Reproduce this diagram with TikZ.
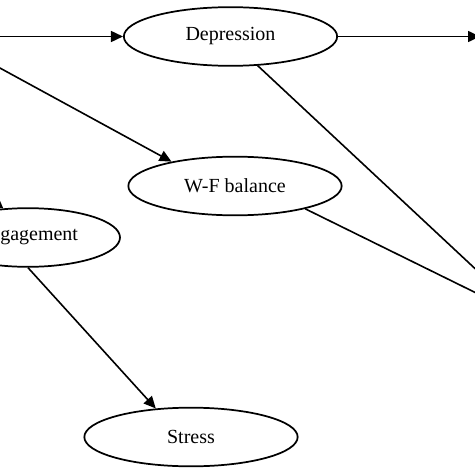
\documentclass[tikz,border=0pt]{standalone}
\usepackage{fontspec}
\setmainfont{Liberation Serif}
\usetikzlibrary{shapes.geometric,arrows.meta}

\begin{document}
\begin{tikzpicture}[x=0.75pt,y=0.75pt,yscale=-1,xscale=1,
	factor/.style={draw,ellipse,line width=1.3pt,inner sep=0pt,minimum width=160pt,minimum height=44pt,font=\fontsize{15}{18}\selectfont},
	label text/.style={inner sep=0pt,font=\fontsize{15}{18}\selectfont},
	path/.style={line width=1.2pt,-{Triangle[length=9pt,width=8.25pt]}}]
				%set diagram to the visible window
				\useasboundingbox (0,0) rectangle (474,474);
				
				%Shape: Ellipse [id:depression]
				\node [factor] (dep) at (230.5,36.5) {Depression};
				%Shape: Ellipse [id:wfbalance]
				\node [factor] (wf) at (235,186) {W-F balance};
				%Shape: Ellipse [id:engagement]
				\node [factor,minimum width=138pt] (eng) at (28,237.5) {};
				%Shape: Ellipse [id:stress]
				\node [factor] (str) at (191,437) {Stress};
				
				% Text Node
				\node [label text,anchor=west] (englab) at (0,237.5) {gagement};
				
				%free ends outside the window
				\coordinate (in1) at (-20,36.5);
				\coordinate (in2) at (-10,62.6);
				\coordinate (out1) at (480,36.5);
				\coordinate (res) at (529,319);
				\coordinate (up1) at (-2,196);
				
				%Straight Lines [id:in1-dep]
				\draw [path] (in1) -- (dep.west);
				%Straight Lines [id:dep-out1]
				\draw [path] (dep.east) -- (out1);
				%Straight Lines [id:in2-wf]
				\draw [path] (in2) -- (wf.159);
				%Straight Lines [id:dep-res]
				\draw [path] (dep.313) -- (res);
				%Straight Lines [id:wf-res]
				\draw [path] (wf.342) -- (res);
				%Straight Lines [id:eng-up]
				\draw [path] (eng.137) -- (up1);
				%Straight Lines [id:eng-str]
				\draw [path] (eng.south) -- (str.141);
				
\end{tikzpicture}
\end{document}
